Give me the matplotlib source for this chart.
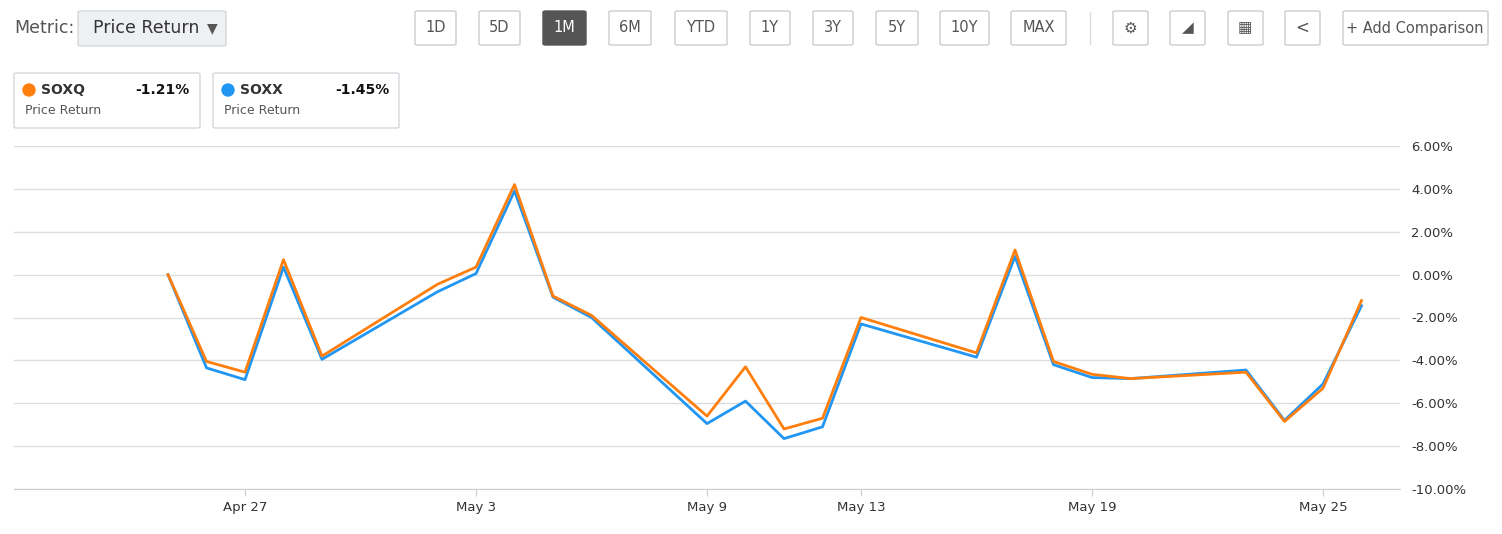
import matplotlib
matplotlib.use("Agg")
import matplotlib.pyplot as plt
import matplotlib.dates as mdates
from matplotlib.patches import FancyBboxPatch, Ellipse
import datetime as dt

dates = ["2022-04-25","2022-04-26","2022-04-27","2022-04-28","2022-04-29",
         "2022-05-02","2022-05-03","2022-05-04","2022-05-05","2022-05-06",
         "2022-05-09","2022-05-10","2022-05-11","2022-05-12","2022-05-13",
         "2022-05-16","2022-05-17","2022-05-18","2022-05-19","2022-05-20",
         "2022-05-23","2022-05-24","2022-05-25","2022-05-26"]
soxq = [0, -4.05, -4.55, 0.7, -3.8, -0.45, 0.35, 4.2, -1.0, -1.9,
        -6.6, -4.3, -7.2, -6.7, -2.0, -3.65, 1.15, -4.05, -4.65, -4.85,
        -4.55, -6.85, -5.3, -1.21]
soxx = [0, -4.35, -4.9, 0.35, -3.95, -0.8, 0.05, 3.9, -1.05, -2.0,
        -6.95, -5.9, -7.65, -7.1, -2.3, -3.85, 0.85, -4.2, -4.8, -4.85,
        -4.45, -6.8, -5.1, -1.45]
tick_dates = ["2022-04-27","2022-05-03","2022-05-09","2022-05-13","2022-05-19","2022-05-25"]
yticks = [6, 4, 2, 0, -2, -4, -6, -8, -10]
buttons = ["1D","5D","1M","6M","YTD","1Y","3Y","5Y","10Y","MAX"]
legend = [("SOXQ", "-1.21%", "#ff7f0e"), ("SOXX", "-1.45%", "#2196f3")]

W, H = 1502, 534
fig = plt.figure(figsize=(W/100, H/100), dpi=100)
fig.patch.set_facecolor("white")

def px(x, y):
    return x / W, 1 - y / H

def box(x0, y0, x1, y1, fc="white", ec="#cccccc", r=3):
    a, b = px(x0, y1)
    fig.patches.append(FancyBboxPatch((a, b), (x1-x0)/W, (y1-y0)/H,
                       boxstyle=f"round,pad=0,rounding_size={r/W}",
                       transform=fig.transFigure, fc=fc, ec=ec, lw=1))

fig.text(*px(14, 28), "Metric:", fontsize=12.5, color="#555555", va="center")
box(78, 11, 226, 46, fc="#eef0f3", ec="#d5d8dc")
fig.text(*px(93, 28), "Price Return", fontsize=12.5, color="#333333", va="center")
fig.text(*px(207, 28), "▼", fontsize=10, color="#555555", va="center")

bx = [(415,456),(479,520),(543,586),(609,651),(675,727),(750,790),(813,853),(876,918),(940,989),(1011,1066)]
for (x0, x1), lab in zip(bx, buttons):
    active = lab == "1M"
    box(x0, 11, x1, 45, fc="#555555" if active else "white", ec="#555555" if active else "#cccccc")
    fig.text(*px((x0+x1)/2, 28), lab, fontsize=10.5, color="white" if active else "#555555",
             ha="center", va="center")
fig.add_artist(plt.Line2D([1090/W]*2, [1-12/H, 1-44/H], color="#dddddd", lw=1))
for x0 in [1113, 1170, 1228, 1285]:
    box(x0, 11, x0+35, 45)
fig.text(*px(1130, 28), "⚙", fontsize=11, color="#555555", ha="center", va="center")
fig.text(*px(1188, 28), "◢", fontsize=11, color="#555555", ha="center", va="center")
fig.text(*px(1245, 28), "▦", fontsize=11, color="#555555", ha="center", va="center")
fig.text(*px(1302, 28), "<", fontsize=12, color="#555555", ha="center", va="center")
box(1343, 11, 1488, 45)
fig.text(*px(1415, 28), "+ Add Comparison", fontsize=10.5, color="#555555", ha="center", va="center")

for i, (name, val, col) in enumerate(legend):
    x0 = 14 + i*199
    box(x0, 73, x0+186, 128, ec="#d5d8dc")
    fig.patches.append(Ellipse(px(x0+15, 90), 12/W, 12/H, transform=fig.transFigure, color=col))
    fig.text(*px(x0+27, 90), name, fontsize=10, fontweight="bold", color="#333333", va="center")
    fig.text(*px(x0+176, 90), val, fontsize=10, fontweight="bold", color="#111111", va="center", ha="right")
    fig.text(*px(x0+11, 110), "Price Return", fontsize=9, color="#555555", va="center")

ax = fig.add_axes([14/W, 1-489/H, (1400-14)/W, (489-146)/H])
d = [dt.datetime.strptime(s, "%Y-%m-%d") for s in dates]
ax.plot(d, soxq, color="#ff7f0e", lw=2, zorder=3)
ax.plot(d, soxx, color="#2196f3", lw=2, zorder=2)
ax.set_ylim(-10, 6)
ax.set_yticks(yticks)
ax.set_yticklabels([f"{v:.2f}%" for v in yticks])
ax.yaxis.tick_right()
ax.set_xlim(dt.datetime(2022,4,21), dt.datetime(2022,5,27))
ax.set_xticks([dt.datetime.strptime(s, "%Y-%m-%d") for s in tick_dates])
ax.xaxis.set_major_formatter(mdates.DateFormatter("%b %-d"))
ax.grid(axis="y", color="#dddddd", lw=1)
for s in ["top", "left", "right"]:
    ax.spines[s].set_visible(False)
ax.spines["bottom"].set_color("#cccccc")
ax.tick_params(axis="y", length=0, labelsize=9.5, colors="#333333", pad=8)
ax.tick_params(axis="x", length=5, color="#cccccc", labelsize=9.5, colors="#333333")
fig.savefig("out.png", dpi=100)
